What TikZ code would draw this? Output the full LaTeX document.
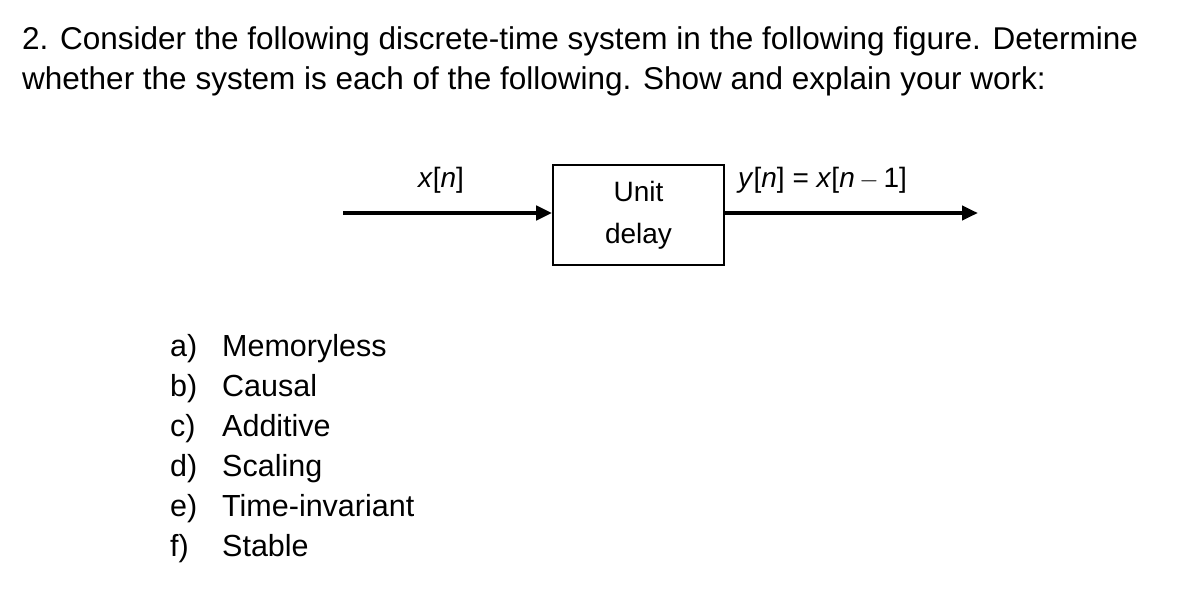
\documentclass[tikz,border=0pt]{standalone}
\usepackage{fontspec}
\setmainfont{Liberation Sans}
\usetikzlibrary{arrows.meta}
\begin{document}
\begin{tikzpicture}[x=1pt,y=-1pt,
  title/.style={anchor=base west,inner sep=0,font=\fontsize{31.5}{38}\selectfont},
  item/.style={anchor=base west,inner sep=0,font=\fontsize{30.5}{36}\selectfont},
  lbl/.style={inner sep=0,anchor=base,font=\fontsize{28}{32}\selectfont},
  sig/.style={line width=4.5pt,-{Triangle[length=16pt,width=14pt]}}]
\useasboundingbox (0,0) rectangle (1188,592);
\node[title] (t1) at (22,49) {2. Consider the following discrete-time system in the following figure. Determine};
\node[title] (t2) at (22,89) {whether the system is each of the following. Show and explain your work:};
\node[draw,line width=1.6pt,minimum width=171pt,minimum height=100pt,inner sep=0,
  align=center,font=\fontsize{28}{42}\selectfont] (box) at (638.5,215) {Unit\\delay};
\coordinate (in) at (343,213);
\coordinate (out) at (978,213);
\draw[sig] (in) -- (box.west |- in);
\draw[sig] (box.east |- out) -- (out);
\node[lbl] (xl) at (441,187) {\textit{x}[\textit{n}]};
\node[lbl,anchor=base west] (yl) at (738,187) {\textit{y}[\textit{n}] = \textit{x}[\textit{n}\,$-$\,1]};
\foreach \l/\t [count=\i] in {a/Memoryless,b/Causal,c/Additive,d/Scaling,e/Time-invariant,f/Stable}{
  \node[item] (l\i) at (170,316+40*\i) {\l)};
  \node[item] (i\i) at (222,316+40*\i) {\t};
}
\end{tikzpicture}
\end{document}
